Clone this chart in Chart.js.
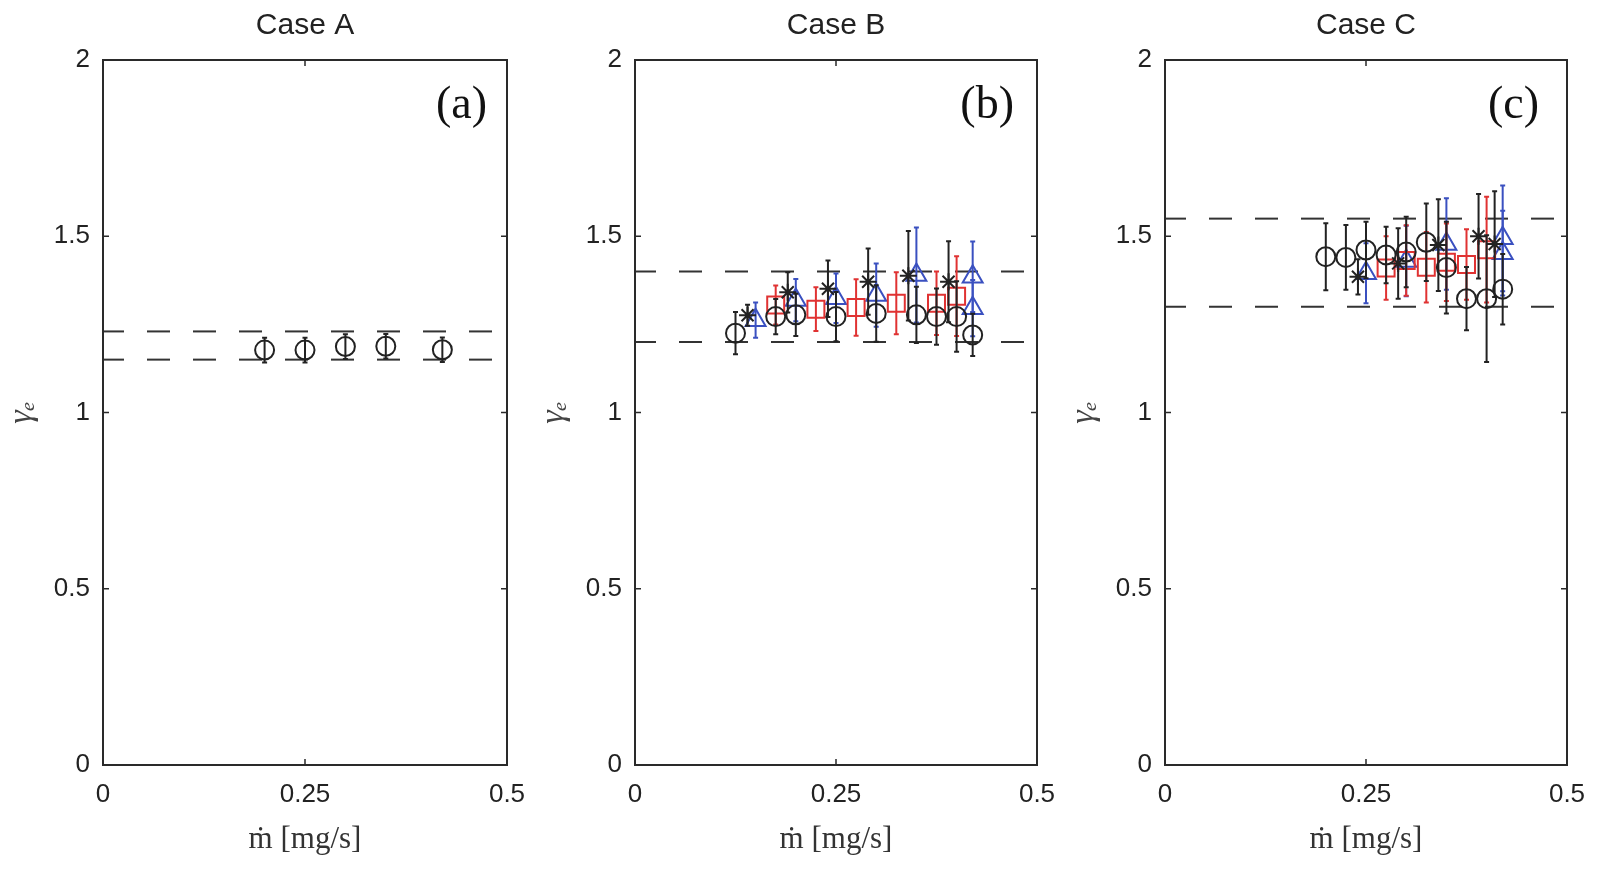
<!DOCTYPE html>
<html><head><meta charset="utf-8">
<script src="https://cdn.jsdelivr.net/npm/chart.js@4.4.0/dist/chart.umd.min.js"></script>
<style>
html,body{margin:0;padding:0;background:#fff;}
body{width:1600px;height:871px;position:relative;overflow:hidden;}
canvas{position:absolute;top:0;}
</style></head><body>
<canvas id="cA" width="540" height="871" style="left:0px"></canvas>
<canvas id="cB" width="540" height="871" style="left:532px"></canvas>
<canvas id="cC" width="538" height="871" style="left:1062px"></canvas>
<script>
// ---- axis ticks ----
const xTicks = [0, 0.25, 0.5];
const xTickLabels = ["0", "0.25", "0.5"];
const yTicks = [0, 0.5, 1, 1.5, 2];
const yTickLabels = ["0", "0.5", "1", "1.5", "2"];
const panelTitles = ["Case A", "Case B", "Case C"];
const panelLabels = ["(a)", "(b)", "(c)"];

// ---- Case A ----
const aCircleX = [0.2, 0.25, 0.3, 0.35, 0.42];
const aCircleY = [1.177, 1.177, 1.187, 1.188, 1.178];
const aCircleErr = [0.035, 0.035, 0.035, 0.035, 0.035];
const aBounds = [1.15, 1.23];

// ---- Case B ----
const bCircleX = [0.125, 0.175, 0.2, 0.25, 0.3, 0.35, 0.375, 0.4, 0.42];
const bCircleY = [1.225, 1.272, 1.277, 1.272, 1.281, 1.277, 1.272, 1.272, 1.22];
const bCircleErr = [0.06, 0.05, 0.06, 0.07, 0.08, 0.08, 0.08, 0.1, 0.06];
const bStarX = [0.14, 0.19, 0.24, 0.29, 0.34, 0.39];
const bStarY = [1.276, 1.341, 1.351, 1.371, 1.388, 1.371];
const bStarErr = [0.03, 0.057, 0.08, 0.094, 0.127, 0.115];
const bSquareX = [0.175, 0.225, 0.275, 0.325, 0.375, 0.4];
const bSquareY = [1.305, 1.293, 1.298, 1.31, 1.31, 1.33];
const bSquareErr = [0.055, 0.062, 0.08, 0.088, 0.09, 0.113];
const bTriX = [0.15, 0.2, 0.25, 0.3, 0.35, 0.42, 0.42];
const bTriY = [1.262, 1.319, 1.324, 1.333, 1.39, 1.385, 1.296];
const bTriErr = [0.05, 0.06, 0.07, 0.09, 0.135, 0.1, 0.08];
const bBounds = [1.2, 1.4];

// ---- Case C ----
const cCircleX = [0.2, 0.225, 0.25, 0.275, 0.3, 0.325, 0.35, 0.375, 0.4, 0.42];
const cCircleY = [1.442, 1.44, 1.461, 1.447, 1.455, 1.483, 1.411, 1.323, 1.323, 1.35];
const cCircleErr = [0.095, 0.092, 0.08, 0.08, 0.1, 0.11, 0.13, 0.09, 0.18, 0.1];
const cStarX = [0.24, 0.29, 0.34, 0.39, 0.41];
const cStarY = [1.385, 1.423, 1.475, 1.5, 1.478];
const cStarErr = [0.05, 0.1, 0.13, 0.12, 0.15];
const cSquareX = [0.275, 0.3, 0.325, 0.35, 0.375, 0.4];
const cSquareY = [1.41, 1.431, 1.412, 1.426, 1.42, 1.462];
const cSquareErr = [0.09, 0.1, 0.1, 0.11, 0.1, 0.15];
const cTriX = [0.25, 0.3, 0.35, 0.42, 0.42];
const cTriY = [1.395, 1.43, 1.478, 1.494, 1.452];
const cTriErr = [0.085, 0.1, 0.13, 0.15, 0.12];
const cBounds = [1.3, 1.55];

const BLACK = '#222222', RED = '#e03232', BLUE = '#3a50c0', AXIS = '#2a2a2a';

function pts(xs, ys) { return xs.map((x, i) => ({x: x, y: ys[i]})); }

const styles = {
  circle: {pointStyle: 'circle', pointRadius: 9.5, color: BLACK},
  star: {pointStyle: 'star', pointRadius: 8.5, color: BLACK},
  square: {pointStyle: 'rect', pointRadius: 12, color: RED},
  tri: {pointStyle: 'triangle', pointRadius: 11.5, color: BLUE}
};

function series(kind, xs, ys, errs) {
  const s = styles[kind];
  return {
    type: 'scatter', data: pts(xs, ys), errors: errs,
    pointStyle: s.pointStyle, pointRadius: s.pointRadius,
    borderColor: s.color, backgroundColor: 'rgba(0,0,0,0)',
    pointBorderWidth: 2, showLine: false
  };
}
function bound(v) {
  return {
    type: 'line', data: [{x: xTicks[0], y: v}, {x: xTicks[xTicks.length - 1], y: v}],
    borderColor: '#333', borderWidth: 2, borderDash: [23, 23], borderDashOffset: 2,
    pointRadius: 0, fill: false
  };
}

const errorBars = {
  id: 'errorBars',
  beforeDatasetDraw(chart, args) {
    const ds = chart.data.datasets[args.index];
    if (!ds.errors) return;
    const ctx = chart.ctx, ys = chart.scales.y;
    ctx.save();
    ctx.strokeStyle = ds.borderColor; ctx.lineWidth = 2;
    args.meta.data.forEach((pt, j) => {
      const v = ds.data[j].y, e = ds.errors[j];
      const y1 = ys.getPixelForValue(v + e), y2 = ys.getPixelForValue(v - e);
      ctx.beginPath();
      ctx.moveTo(pt.x, y1); ctx.lineTo(pt.x, y2);
      ctx.moveTo(pt.x - 2.5, y1); ctx.lineTo(pt.x + 2.5, y1);
      ctx.moveTo(pt.x - 2.5, y2); ctx.lineTo(pt.x + 2.5, y2);
      ctx.stroke();
    });
    ctx.restore();
  }
};

const frame = {
  id: 'frame',
  afterDraw(chart, args, opts) {
    const ctx = chart.ctx, a = chart.chartArea, xs = chart.scales.x, ys = chart.scales.y;
    ctx.save();
    ctx.strokeStyle = AXIS; ctx.lineWidth = 2;
    ctx.strokeRect(a.left, a.top, a.right - a.left, a.bottom - a.top);
    ctx.lineWidth = 1.5;
    ctx.beginPath();
    ys.ticks.forEach(t => {
      if (t.value <= ys.min || t.value >= ys.max) return;
      const p = ys.getPixelForValue(t.value);
      ctx.moveTo(a.left, p); ctx.lineTo(a.left + 6, p);
      ctx.moveTo(a.right, p); ctx.lineTo(a.right - 6, p);
    });
    xs.ticks.forEach(t => {
      if (t.value <= xs.min || t.value >= xs.max) return;
      const p = xs.getPixelForValue(t.value);
      ctx.moveTo(p, a.bottom); ctx.lineTo(p, a.bottom - 6);
      ctx.moveTo(p, a.top); ctx.lineTo(p, a.top + 6);
    });
    ctx.stroke();
    // panel title
    ctx.fillStyle = '#222';
    ctx.font = '30px "Liberation Sans", Arial, sans-serif';
    ctx.textAlign = 'center'; ctx.textBaseline = 'middle';
    ctx.fillText(opts.title, (a.left + a.right) / 2, 26);
    // panel label
    ctx.fillStyle = '#111';
    ctx.font = '46px "Liberation Serif", "Times New Roman", serif';
    ctx.textAlign = 'right'; ctx.textBaseline = 'middle';
    ctx.fillText(opts.text, a.right - opts.dx, a.top + 46);
    ctx.restore();
  }
};

function makeChart(id, idx, datasets, rightPad, labelDx) {
  return new Chart(document.getElementById(id), {
    data: {datasets: datasets},
    plugins: [errorBars, frame],
    options: {
      responsive: false, animation: false,
      layout: {padding: {left: 0, right: rightPad, top: 60, bottom: 0}},
      plugins: {
        legend: {display: false}, tooltip: {enabled: false}, title: {display: false},
        frame: {text: panelLabels[idx], title: panelTitles[idx], dx: labelDx}
      },
      scales: {
        x: {type: 'linear', min: xTicks[0], max: xTicks[xTicks.length - 1],
          afterBuildTicks: s => { s.ticks = xTicks.map(v => ({value: v})); },
          afterFit: s => { s.height = 106; },
          grid: {display: false, drawTicks: false}, border: {display: false},
          ticks: {color: '#222', padding: 14, maxRotation: 0,
            callback: (v, i) => xTickLabels[i],
            font: {family: '"Liberation Sans", Arial, sans-serif', size: 26}},
          title: {display: true, text: 'ṁ [mg/s]', color: '#333',
            font: {family: '"Liberation Serif", "DejaVu Serif", serif', size: 31},
            padding: {top: 4, bottom: 13}}
        },
        y: {type: 'linear', min: yTicks[0], max: yTicks[yTicks.length - 1],
          afterBuildTicks: s => { s.ticks = yTicks.map(v => ({value: v})); },
          afterFit: s => { s.width = 103; },
          grid: {display: false, drawTicks: false}, border: {display: false},
          ticks: {color: '#222', padding: 13,
            callback: (v, i) => yTickLabels[i],
            font: {family: '"Liberation Sans", Arial, sans-serif', size: 26}},
          title: {display: true, text: 'γₑ', color: '#444',
            font: {family: '"Liberation Serif", "DejaVu Serif", serif', size: 34, style: 'italic'},
            padding: {top: 2, bottom: 0}}
        }
      }
    }
  });
}

makeChart('cA', 0, [
  series('circle', aCircleX, aCircleY, aCircleErr),
  bound(aBounds[0]), bound(aBounds[1])
], 33, 20);

makeChart('cB', 1, [
  series('circle', bCircleX, bCircleY, bCircleErr),
  series('star', bStarX, bStarY, bStarErr),
  series('square', bSquareX, bSquareY, bSquareErr),
  series('tri', bTriX, bTriY, bTriErr),
  bound(bBounds[0]), bound(bBounds[1])
], 35, 23);

makeChart('cC', 2, [
  series('circle', cCircleX, cCircleY, cCircleErr),
  series('star', cStarX, cStarY, cStarErr),
  series('square', cSquareX, cSquareY, cSquareErr),
  series('tri', cTriX, cTriY, cTriErr),
  bound(cBounds[0]), bound(cBounds[1])
], 33, 28);
</script>
</body></html>
